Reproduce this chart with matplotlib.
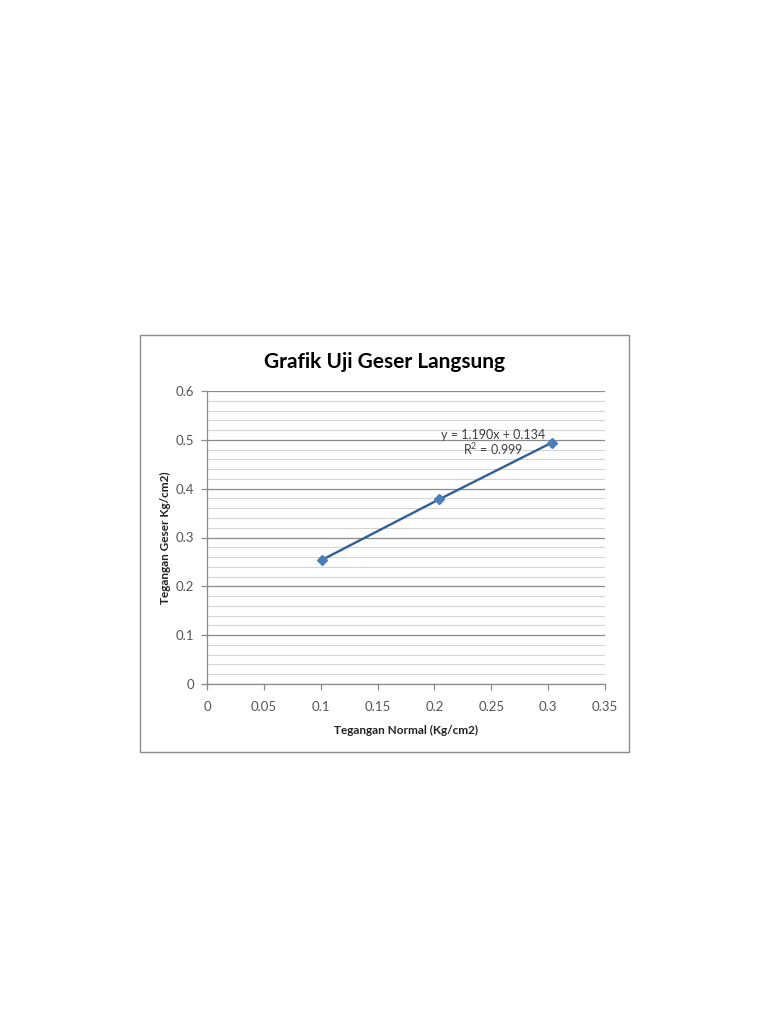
import numpy as np
import matplotlib
matplotlib.use("Agg")
import matplotlib.pyplot as plt
from matplotlib.patches import Rectangle
from matplotlib.ticker import MultipleLocator

# data
normal_stress = [0.101, 0.204, 0.303]
shear_stress = [0.254, 0.378, 0.494]
equation_text = "y = 1.190x + 0.134"
r2_text = "R$^2$ = 0.999"

TITLE = "Grafik Uji Geser Langsung"
XLABEL = "Tegangan Normal (Kg/cm2)"
YLABEL = "Tegangan Geser Kg/cm2)"

plt.rcParams["font.family"] = ["Lato", "DejaVu Sans"]
plt.rcParams["mathtext.fontset"] = "custom"
plt.rcParams["mathtext.rm"] = "Lato"

fig = plt.figure(figsize=(7.68, 10.24), dpi=100)
fig.patch.set_facecolor("white")

# chart frame like the spreadsheet chart object
frame = Rectangle((140 / 768, 1 - 752 / 1024), 489 / 768, 417 / 1024,
                  transform=fig.transFigure, facecolor="none",
                  edgecolor="#8c8c8c", linewidth=1.0, zorder=-1)
fig.patches.append(frame)

ax = fig.add_axes([207 / 768, 1 - 684 / 1024, 398 / 768, 293 / 1024])
ax.set_facecolor("none")

ax.plot(normal_stress, shear_stress, color="#2f5f96", linewidth=1.7, zorder=3)
ax.plot(normal_stress, shear_stress, linestyle="none", marker="D",
        markersize=5.5, color="#4a7ebb", markeredgecolor="#4a7ebb", zorder=4)

ax.set_xlim(0, 0.35)
ax.set_ylim(0, 0.6)
ax.yaxis.set_minor_locator(MultipleLocator(0.02))
ax.set_xticks(np.arange(0, 0.351, 0.05))
ax.set_xticklabels(["0", "0.05", "0.1", "0.15", "0.2", "0.25", "0.3", "0.35"])
ax.set_yticks(np.arange(0, 0.61, 0.1))
ax.set_yticklabels(["0", "0.1", "0.2", "0.3", "0.4", "0.5", "0.6"])

ax.grid(axis="y", which="major", color="#8a8a8a", linewidth=0.9)
ax.grid(axis="y", which="minor", color="#d4d4d4", linewidth=0.8)
ax.set_axisbelow(True)

for side in ["top", "right"]:
    ax.spines[side].set_visible(False)
for side in ["left", "bottom"]:
    ax.spines[side].set_color("#8a8a8a")
    ax.spines[side].set_linewidth(0.9)

ax.tick_params(axis="both", which="major", colors="#8a8a8a", labelcolor="#555555",
               labelsize=9.5, length=4, width=0.9)
ax.tick_params(axis="y", which="minor", length=0)
ax.tick_params(axis="x", pad=8)
ax.tick_params(axis="y", pad=5)

ax.text(0.2515, 0.510, equation_text, ha="center", va="center",
        fontsize=9, color="#404040")
ax.text(0.2515, 0.481, r2_text, ha="center", va="center",
        fontsize=9, color="#404040")

fig.text(384 / 768, 1 - 362 / 1024, TITLE, ha="center", va="center",
         fontsize=15, fontweight="bold", color="#000000")
fig.text(406 / 768, 1 - 730 / 1024, XLABEL, ha="center", va="center",
         fontsize=8.5, fontweight="bold", color="#222222")
fig.text(165 / 768, 1 - 538 / 1024, YLABEL, ha="center", va="center",
         rotation=90, fontsize=8.5, fontweight="bold", color="#222222")

fig.savefig("out.png", dpi=100)
